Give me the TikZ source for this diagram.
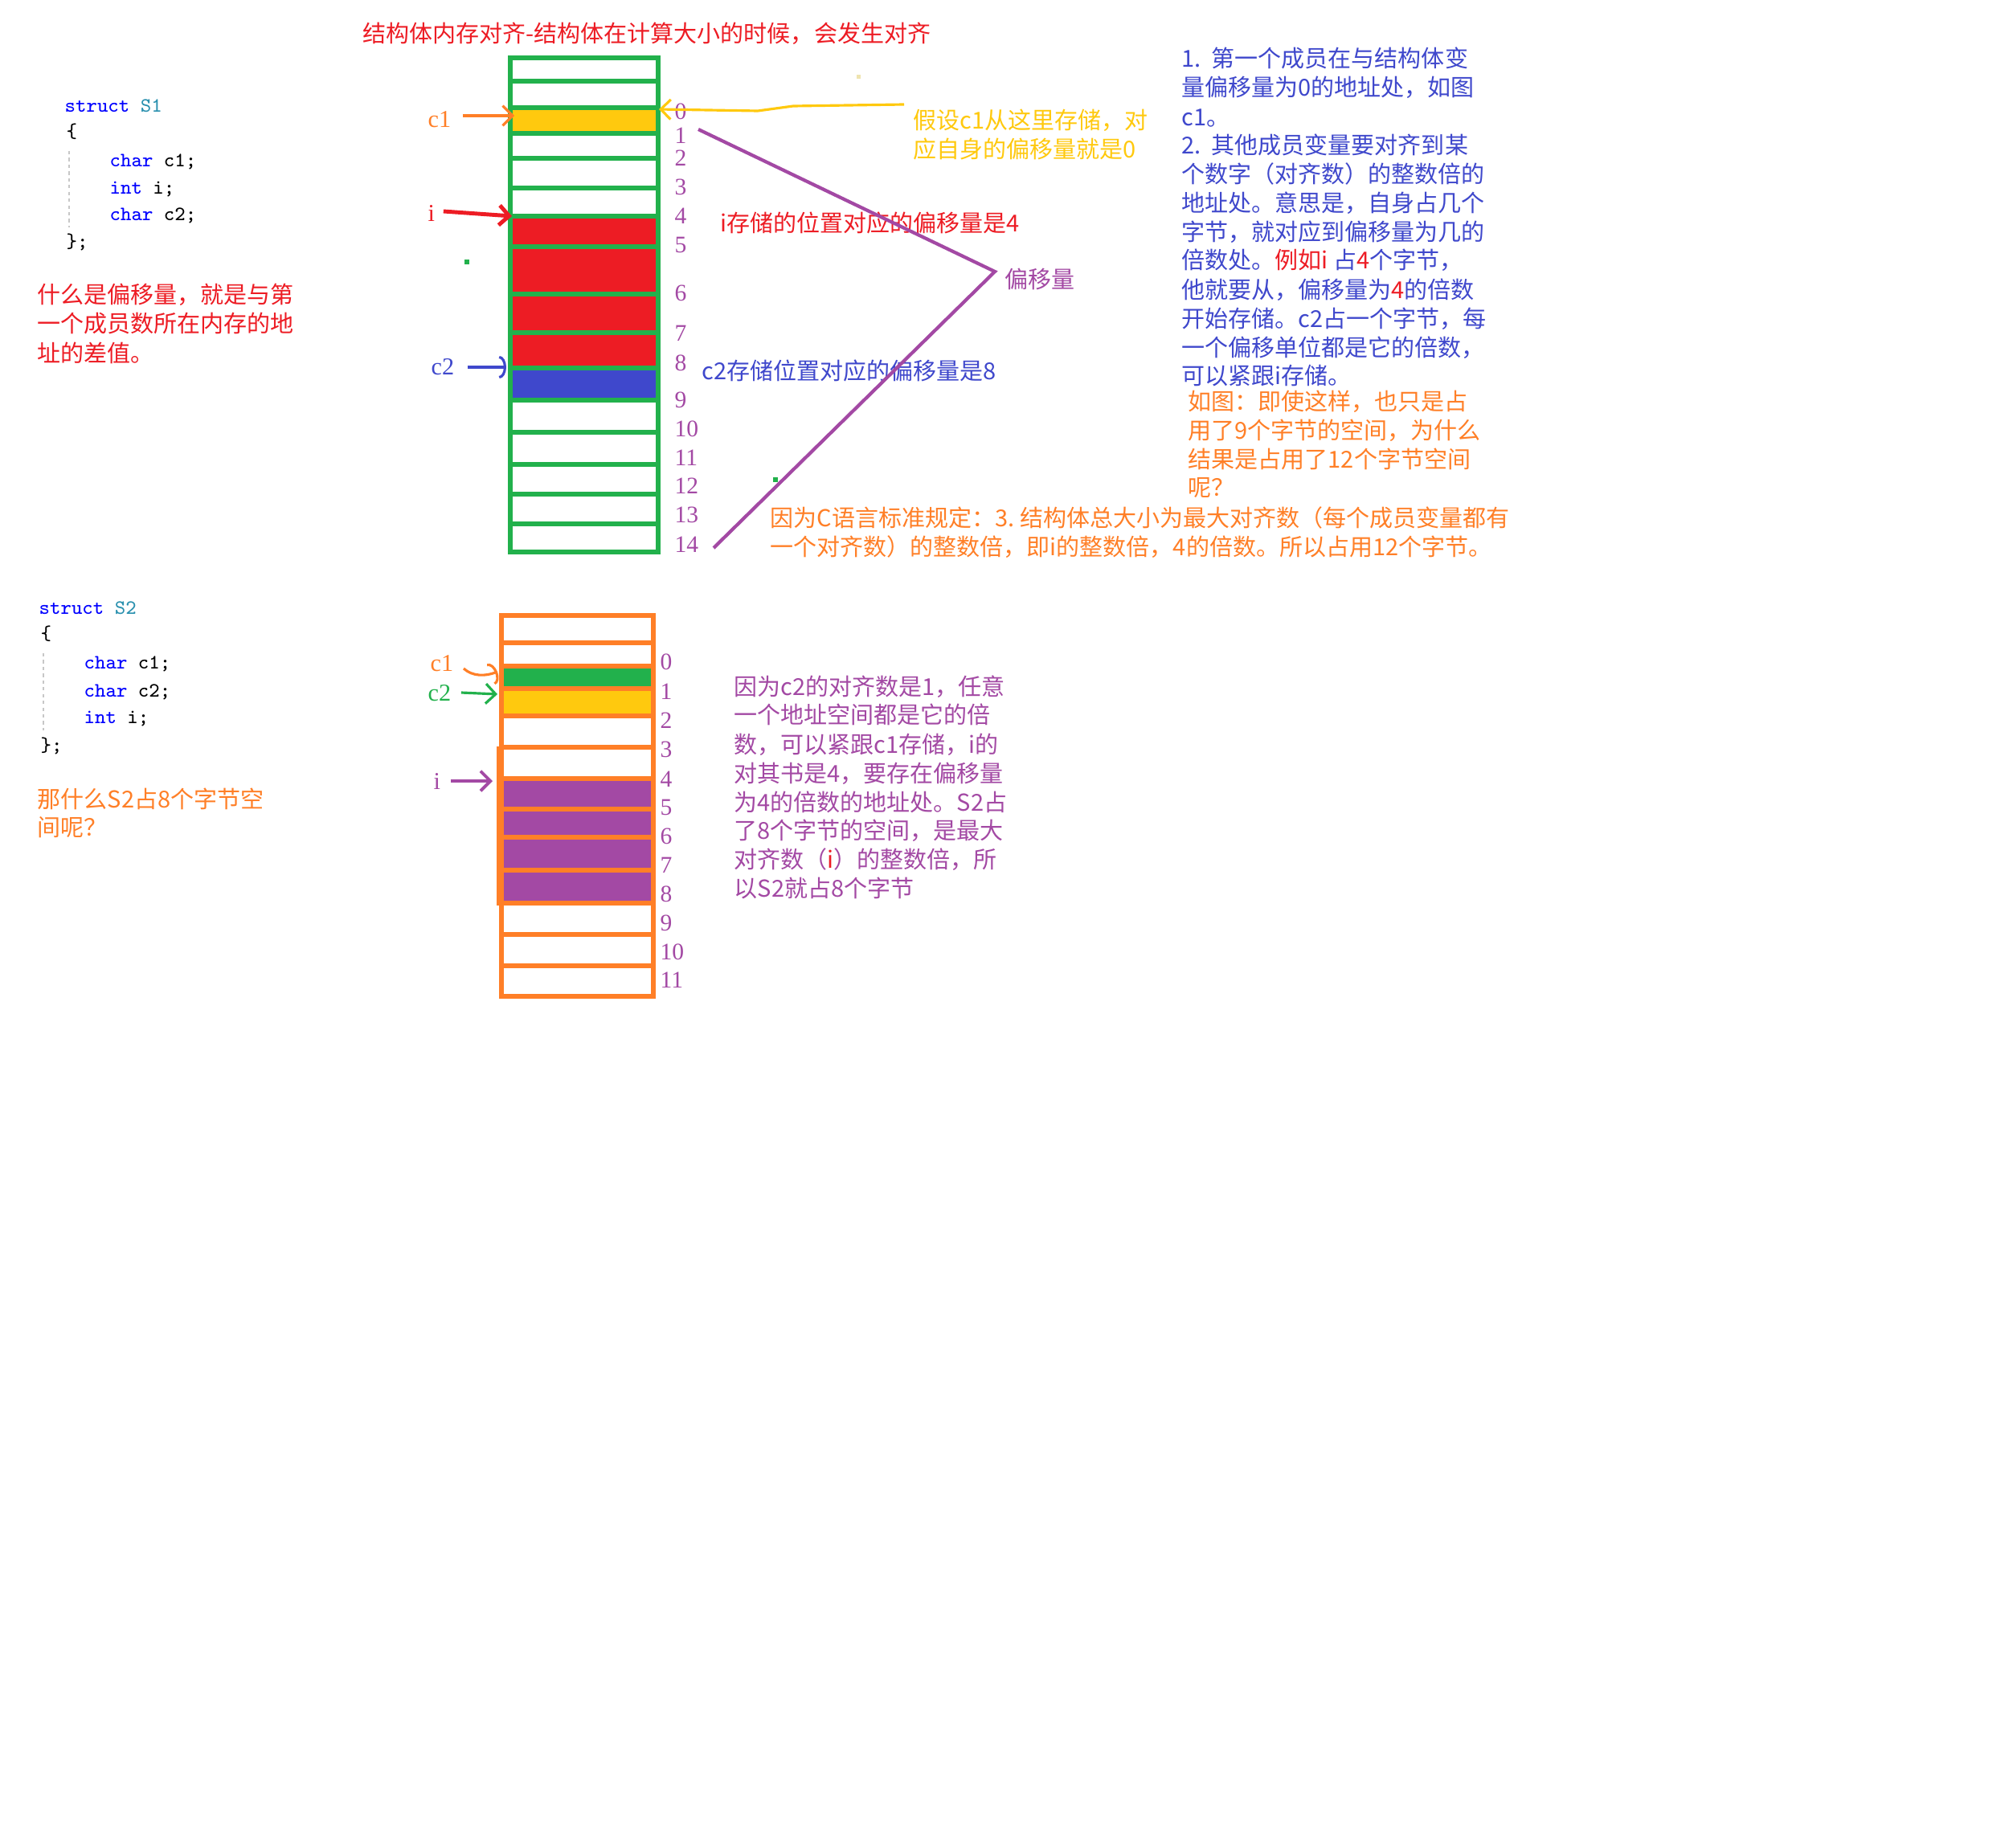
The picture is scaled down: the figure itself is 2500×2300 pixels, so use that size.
\documentclass[tikz,border=0pt]{standalone}
\usepackage{fontspec}
\setmainfont{Liberation Serif}
\newfontfamily\cjk{Noto Sans CJK SC}
\usetikzlibrary{arrows.meta}
\definecolor{pred}{HTML}{ED1C24}
\definecolor{porange}{HTML}{FF7F27}
\definecolor{pyellow}{HTML}{FFC90E}
\definecolor{pgreen}{HTML}{22B14C}
\definecolor{pblue}{HTML}{3F48CC}
\definecolor{ppurple}{HTML}{A349A4}
\definecolor{codeblue}{HTML}{0000FF}
\definecolor{codeteal}{HTML}{2B91AF}
\definecolor{pbeige}{HTML}{EFE4B0}
\begin{document}
\begin{tikzpicture}[x=0.01cm,y=-0.01cm,
  cj/.style={anchor=west,inner sep=0pt,font=\cjk\fontsize{8.25}{10}\selectfont,text height=7.1pt,text depth=1.2pt},
  code/.style={anchor=west,inner sep=0pt,font=\ttfamily\fontsize{7.2}{9}\selectfont,text height=5.2pt,text depth=1.5pt},
  dig/.style={anchor=west,inner sep=0pt,font=\fontsize{8.4}{10}\selectfont,text=ppurple},
  lab/.style={anchor=west,inner sep=0pt,font=\fontsize{8.6}{10}\selectfont},
  gridg/.style={draw=pgreen,line width=1.45pt},
  grido/.style={draw=porange,line width=1.6pt},
  arrbarb/.style={line width=0.9pt,-{Straight Barb[length=3.5pt,width=7pt]}},
  arrarc/.style={line width=0.9pt,-{Arc Barb[length=2.5pt,width=8pt]}},
  guide/.style={draw=black!22,line width=0.5pt,dash pattern=on 1.2pt off 1.2pt}
]
\useasboundingbox[fill=white] (0,0) rectangle (2500,2300);

% ---------- title ----------
\node[cj,text=pred] (title) at (451,42) {结构体内存对齐-结构体在计算大小的时候，会发生对齐};

% ---------- code S1 ----------
\node[code] (s1a) at (80,133) {{\color{codeblue}struct} {\color{codeteal}S1}};
\node[code] (s1b) at (82,165) {\{};
\node[code] (s1c) at (136,201) {{\color{codeblue}char} c1;};
\node[code] (s1d) at (136,235) {{\color{codeblue}int} i;};
\node[code] (s1e) at (136,268) {{\color{codeblue}char} c2;};
\node[code] (s1f) at (82,302) {\};};
\draw[guide] (86,188) -- (86,283);

% ---------- red question ----------
\node[cj,text=pred] (q1a) at (46,367) {什么是偏移量，就是与第};
\node[cj,text=pred] (q1b) at (46,403) {一个成员数所在内存的地};
\node[cj,text=pred] (q1c) at (46,440) {址的差值。};

% ---------- grid S1 ----------
\fill[pyellow] (635,134) rectangle (819,166);
\fill[pred] (635,269) rectangle (819,458);
\fill[pblue] (635,458) rectangle (819,498);
\draw[gridg] (635,72) rectangle (819,687);
\foreach \y in {101,134,166,197,234,269,307,366,414,458,498,538,578,615,652}
  \draw[gridg] (635,\y) -- (819,\y);
\foreach \n/\y in {0/139,1/169,2/197,3/233,4/269,5/305,6/365,7/415,8/452,9/498,10/534,11/570,12/605,13/641,14/678}
  \node[dig] (na\n) at (839,\y) {\n};

% labels + arrows S1
\node[lab,text=porange] (lc1a) at (532,149) {c1};
\coordinate (tc1a) at (640,144);
\draw[arrbarb,draw=porange] (lc1a.east) ++(14,-5) -- (tc1a);
\node[lab,text=pred] (lia) at (532,265) {i};
\coordinate (tia) at (637,269);
\draw[arrbarb,draw=pred,line width=1.4pt] (lia.east) ++(10,-2) -- (tia);
\node[lab,text=pblue] (lc2a) at (536,457) {c2};
\coordinate (tc2a) at (630,457);
\draw[arrarc,draw=pblue] (lc2a.east) ++(16,0) -- (tc2a);

% yellow pointer
\coordinate (ya) at (820,136);
\coordinate (yb) at (943,138);
\coordinate (yc) at (987,132);
\coordinate (yd) at (1125,130);
\draw[draw=pyellow,line width=0.9pt,{Straight Barb[length=3.5pt,width=7pt]}-] (ya) -- (yb) -- (yc) -- (yd);
\node[cj,text=pyellow] (ytxa) at (1136,150) {假设c1从这里存储，对};
\node[cj,text=pyellow] (ytxb) at (1136,186) {应自身的偏移量就是0};

% offset texts
\node[cj,text=pred] (itx) at (896,278) {i存储的位置对应的偏移量是4};
\node[cj,text=pblue] (c2tx) at (873,462) {c2存储位置对应的偏移量是8};

% purple V
\node[cj,text=ppurple] (offs) at (1250,348) {偏移量};
\coordinate (vtop) at (869,161);
\coordinate (vapex) at (1238,338);
\coordinate (vbot) at (888,682);
\draw[draw=ppurple,line width=1.2pt] (vtop) -- (vapex) -- (vbot);

% dots
\fill[pgreen] (578,323) rectangle (584,329);
\fill[pgreen] (962,594) rectangle (968,600);
\fill[pbeige] (1066,93) rectangle (1071,98);

% orange bottom text
\node[cj,text=porange] (rule3a) at (958,645) {因为C语言标准规定：3.\ 结构体总大小为最大对齐数（每个成员变量都有};
\node[cj,text=porange] (rule3b) at (958,681) {一个对齐数）的整数倍，即i的整数倍，4的倍数。所以占用12个字节。};

% right blue block
\node[cj,text=pblue] (ba) at (1470,73) {1.\ \ 第一个成员在与结构体变};
\node[cj,text=pblue] (bb) at (1470,109) {量偏移量为0的地址处，如图};
\node[cj,text=pblue] (bc) at (1470,146) {c1。};
\node[cj,text=pblue] (bd) at (1470,181) {2.\ \ 其他成员变量要对齐到某};
\node[cj,text=pblue] (be) at (1470,217) {个数字（对齐数）的整数倍的};
\node[cj,text=pblue] (bf) at (1470,253) {地址处。意思是，自身占几个};
\node[cj,text=pblue] (bg) at (1470,289) {字节，就对应到偏移量为几的};
\node[cj,text=pblue] (bh) at (1470,324) {倍数处。\textcolor{pred}{例如i}\ 占\textcolor{pred}{4}个字节，};
\node[cj,text=pblue] (bi) at (1470,361) {他就要从，偏移量为\textcolor{pred}{4}的倍数};
\node[cj,text=pblue] (bj) at (1470,397) {开始存储。c2占一个字节，每};
\node[cj,text=pblue] (bk) at (1470,433) {一个偏移单位都是它的倍数，};
\node[cj,text=pblue] (bl) at (1470,468) {可以紧跟i存储。};

% right orange block
\node[cj,text=porange] (oa) at (1478,500) {如图：即使这样，也只是占};
\node[cj,text=porange] (ob) at (1478,536) {用了9个字节的空间，为什么};
\node[cj,text=porange] (oc) at (1478,572) {结果是占用了12个字节空间};
\node[cj,text=porange] (od) at (1478,607) {呢？};

% ---------- code S2 ----------
\node[code] (s2a) at (48,758) {{\color{codeblue}struct} {\color{codeteal}S2}};
\node[code] (s2b) at (50,790) {\{};
\node[code] (s2c) at (104,826) {{\color{codeblue}char} c1;};
\node[code] (s2d) at (104,861) {{\color{codeblue}char} c2;};
\node[code] (s2e) at (104,894) {{\color{codeblue}int} i;};
\node[code] (s2f) at (50,929) {\};};
\draw[guide] (54,813) -- (54,909);

\node[cj,text=porange] (q2a) at (46,995) {那什么S2占8个字节空};
\node[cj,text=porange] (q2b) at (46,1030) {间呢？};

% ---------- grid S2 ----------
\fill[pgreen] (624,829) rectangle (813,857);
\fill[pyellow] (624,857) rectangle (813,891);
\fill[ppurple] (624,969) rectangle (813,1124);
\draw[grido] (624,766) rectangle (813,1240);
\foreach \y in {800,829,857,891,930,969,1007,1042,1083,1124,1163,1202}
  \draw[grido] (624,\y) -- (813,\y);
\draw[draw=porange,line width=1.2pt] (620,929) -- (620,1127);
\foreach \n/\y in {0/824,1/861,2/897,3/933,4/970,5/1005,6/1041,7/1077,8/1113,9/1149,10/1185,11/1220}
  \node[dig] (nb\n) at (821,\y) {\n};

% labels + arrows S2
\node[lab,text=porange] (lc1b) at (535,826) {c1};
\coordinate (tc1b) at (619,836);
\draw[arrarc,draw=porange] (lc1b.east) ++(12,6) .. controls (588,842) and (604,842) .. (tc1b);
\node[lab,text=pgreen] (lc2b) at (532,863) {c2};
\coordinate (tc2b) at (619,864);
\draw[arrbarb,draw=pgreen] (lc2b.east) ++(12,-1) -- (tc2b);
\node[lab,text=ppurple] (lib) at (539,972) {i};
\coordinate (tib) at (613,972);
\draw[arrbarb,draw=ppurple,line width=1.1pt] (lib.east) ++(12,0) -- (tib);

% purple S2 text
\node[cj,text=ppurple] (pa) at (913,855) {因为c2的对齐数是1，任意};
\node[cj,text=ppurple] (pb) at (913,890) {一个地址空间都是它的倍};
\node[cj,text=ppurple] (pc) at (913,927) {数，可以紧跟c1存储，i的};
\node[cj,text=ppurple] (pd) at (913,963) {对其书是4，要存在偏移量};
\node[cj,text=ppurple] (pe) at (913,999) {为4的倍数的地址处。S2占};
\node[cj,text=ppurple] (pf) at (913,1034) {了8个字节的空间，是最大};
\node[cj,text=ppurple] (pg) at (913,1070) {对齐数（\textcolor{pred}{i}）的整数倍，所};
\node[cj,text=ppurple] (ph) at (913,1106) {以S2就占8个字节};
\end{tikzpicture}
\end{document}
